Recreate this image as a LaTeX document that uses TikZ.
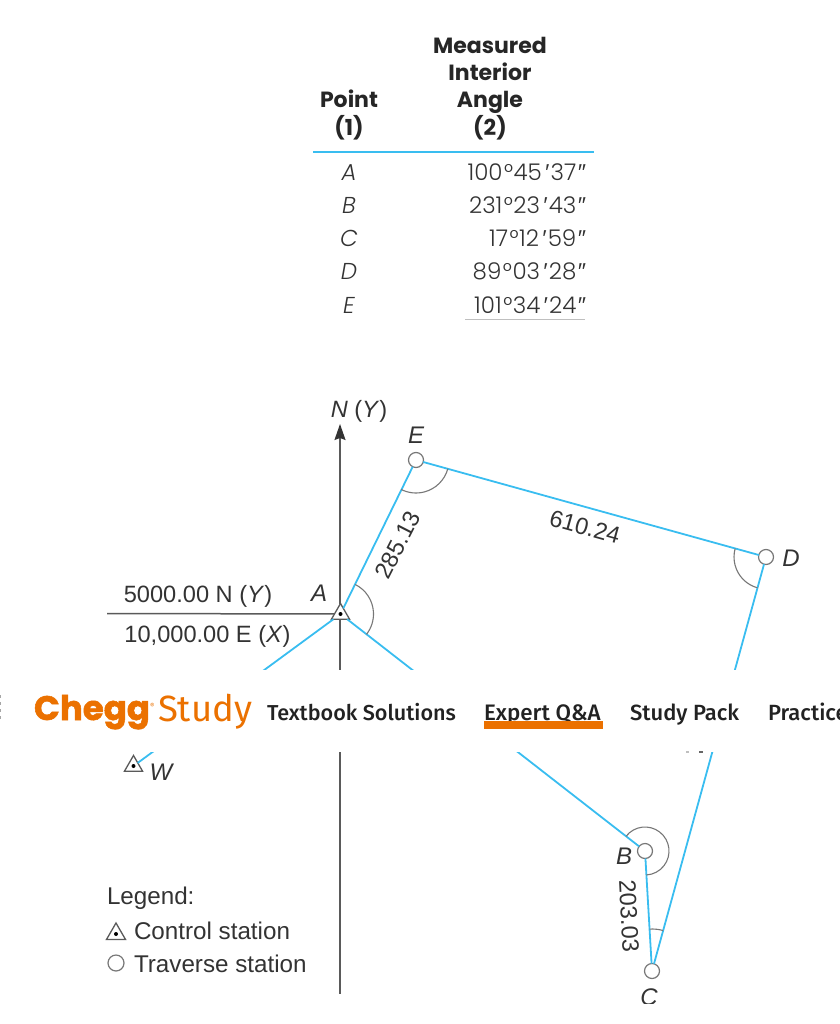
\documentclass[tikz,border=0pt]{standalone}
\usepackage{fontspec}
\usetikzlibrary{arrows.meta,shapes.geometric}
\setmainfont{Liberation Sans}
\newfontfamily\tablefont{Poppins}[UprightFont=* Light,ItalicFont=* Light Italic,BoldFont=* Bold]
\newfontfamily\primefont{Liberation Sans}
\newcommand{\dg}{\kern1.5pt°\kern0.5pt}
\newcommand{\mn}{\kern2.2pt{\primefont\itshape\char"2032}\kern2.2pt}
\newcommand{\sk}{\kern0.5pt{\primefont\itshape\char"2033}}
\newfontfamily\navfont{Fira Sans}[BoldFont=* Medium]
\newfontfamily\logofont{Fira Sans}
\newfontfamily\brandfont{Poppins Bold}[FakeBold=1.5]
\definecolor{skyline}{HTML}{39BDF0}
\definecolor{inkgrey}{HTML}{333333}
\definecolor{axisgrey}{HTML}{5A5A5A}
\definecolor{arcgrey}{HTML}{777777}
\definecolor{cheggorange}{HTML}{EB7100}
\definecolor{navink}{HTML}{222222}
\tikzset{
  x=1pt,y=-1pt,
  every node/.style={inner sep=0pt,outer sep=0pt,text=inkgrey},
  tablehead/.style={font=\tablefont\bfseries\fontsize{22}{24}\selectfont,text=black!85,anchor=base},
  tablecell/.style={font=\tablefont\fontsize{23}{24}\selectfont,anchor=base},
  labeltext/.style={font=\fontsize{23.6}{26}\selectfont},
  stationlabel/.style={font=\itshape\fontsize{24}{26}\selectfont},
  leg/.style={font=\fontsize{24.2}{26}\selectfont,anchor=west},
  traverse/.style={circle,draw=arcgrey,fill=white,line width=1.2pt,minimum size=15pt},
  control/.style={regular polygon,regular polygon sides=3,draw=axisgrey,fill=white,line width=1.3pt,minimum size=21pt},
  centredot/.style={circle,fill=black,minimum size=4pt},
  survey/.style={draw=skyline,line width=1.8pt},
  axisline/.style={draw=axisgrey,line width=1.5pt},
  anglearc/.style={draw=arcgrey,line width=1.1pt},
  navlabel/.style={font=\navfont\bfseries\fontsize{22}{24}\selectfont,text=navink,anchor=base west},
}
\begin{document}
\begin{tikzpicture}
\useasboundingbox (0,0) rectangle (839,1024);
% table
\node[tablehead] at (490,54) {Measured};
\node[tablehead] at (490,81) {Interior};
\node[tablehead] at (490,108) {Angle};
\node[tablehead] at (490,136) {(2)};
\node[tablehead] at (349,108) {Point};
\node[tablehead] at (349,136) {(1)};
\coordinate (ruleL) at (313,152);
\coordinate (ruleR) at (594,152);
\draw[survey] (ruleL) -- (ruleR);
\foreach \n/\y/\p/\v in {ra/180.5/A/100\dg 45\mn 37\sk,rb/213.5/B/231\dg 23\mn 43\sk,rc/246.5/C/17\dg 12\mn 59\sk,rd/279.5/D/89\dg 03\mn 28\sk,re/313.5/E/101\dg 34\mn 24\sk}{
  \node[tablecell] (\n p) at (349,\y) {\itshape\p};
  \node[tablecell,anchor=base east] (\n v) at (585,\y) {\v};
}
\coordinate (endL) at (465,319);
\coordinate (endR) at (585,319);
\draw[draw=black!25,line width=0.8pt] (endL) -- (endR);
% stations
\node[control] (A) at (340.5,614) {};
\node[centredot] (Adot) at (340.5,614) {};
\node[control] (W) at (133.5,766) {};
\node[centredot] (Wdot) at (133.5,766) {};
\node[traverse] (E) at (416,460) {};
\node[traverse] (D) at (766,557) {};
\node[traverse] (C) at (652,971) {};
\node[traverse] (B) at (645,851) {};
% axes
\coordinate (axisTop) at (340,424);
\coordinate (axisBottom) at (340,994);
\coordinate (axisLeft) at (107,613.5);
\draw[axisline,-{Stealth[length=16pt,width=11pt,inset=2pt,color=inkgrey]}] (A.north -| axisTop) -- (axisTop);
\draw[axisline] (A.south -| axisTop) -- (axisBottom);
\draw[axisline] (axisLeft) -- (A);
% traverse
\draw[survey] (A) -- (E);
\draw[survey] (E) -- (D);
\draw[survey] (D) -- (C);
\draw[survey] (C) -- (B);
\draw[survey] (B) -- (A);
\draw[survey] (A) -- (W);
% interior angles
\draw[anglearc] (340.5,614) ++(-63.4:33) arc[start angle=-63.4,end angle=38,radius=33];
\draw[anglearc] (416,460) ++(15.5:33) arc[start angle=15.5,end angle=116.6,radius=33];
\draw[anglearc] (766,557) ++(105.4:32) arc[start angle=105.4,end angle=195.5,radius=32];
\draw[anglearc] (645,851) ++(217.9:24) arc[start angle=217.9,end angle=446.7,radius=24];
\draw[anglearc] (652,971) ++(266.7:42) arc[start angle=266.7,end angle=285.4,radius=42];
% labels
\node[labeltext] at (359,411) {\textit{N} (\textit{Y})};
\node[stationlabel] at (416,435) {E};
\node[stationlabel] at (791,558) {D};
\node[stationlabel] at (319,593) {A};
\node[stationlabel] at (624,856) {B};
\node[stationlabel] at (649,997) {C};
\node[stationlabel] at (161,772) {W};
\node[labeltext] at (198,596) {5000.00 N (\textit{Y})};
\node[labeltext] at (207.5,636) {10,000.00 E (\textit{X})};
\node[labeltext,rotate=63] at (397.5,545) {285.13};
\node[labeltext,rotate=-15.5] at (585,527) {610.24};
\node[labeltext,rotate=-87] at (629,916) {203.03};
% legend
\node[leg] at (107,898) {Legend:};
\node[control,minimum size=22pt] (lc) at (116,934) {};
\node[centredot,minimum size=4pt] (lcd) at (116,934) {};
\node[leg] at (134,931) {Control station};
\node[traverse,minimum size=16pt] (lt) at (116,963) {};
\node[leg] at (134,964) {Traverse station};
% cropped bottom edge
\node[fill=white,minimum width=839pt,minimum height=20pt,anchor=north] (bottomcover) at (419.5,1004) {};
% app banner
\node[fill=white,minimum width=839pt,minimum height=82pt] (band) at (419.5,711) {};
\node[font=\brandfont\fontsize{34}{40}\selectfont,text=cheggorange,anchor=base west] (chegg) at (34,720) {Chegg};
\node[font=\logofont\fontsize{7}{10}\selectfont,text=cheggorange,anchor=west] (reg) at (150,706) {®};
\node[font=\logofont\fontsize{36.5}{40}\selectfont,text=cheggorange,anchor=base west] (study) at (158,721) {Study};
\node[navlabel,font=\navfont\bfseries\fontsize{21.6}{24}\selectfont] (tb) at (267,720.5) {Textbook Solutions};
\node[navlabel,font=\navfont\bfseries\fontsize{22.4}{24}\selectfont] (eq) at (484,720.5) {Expert Q\&A};
\node[navlabel] (sp) at (630,720.5) {Study Pack};
\node[navlabel] (pr) at (768,720.5) {Practice};
\fill[cheggorange] (484,721) rectangle (603,729);
\fill[black!60] (699,751) rectangle (703,753);
\fill[black!25] (686,751) rectangle (689,753);
\foreach \y in {695,702,709,716}{\fill[black!35] (0,\y) rectangle (1,\y+3);}
\end{tikzpicture}
\end{document}
